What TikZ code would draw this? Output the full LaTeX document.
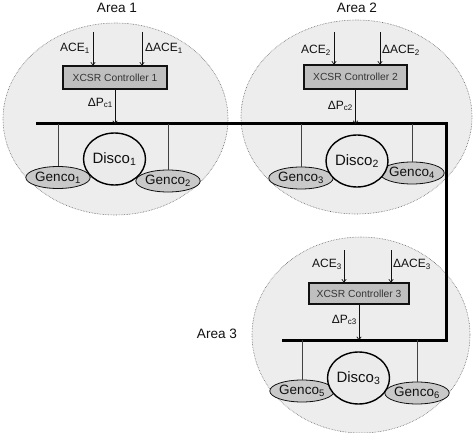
\documentclass[tikz,border=0pt]{standalone}
\usepackage{fontspec}
\setmainfont{Liberation Sans}
\usetikzlibrary{shapes.geometric,arrows.meta}
\definecolor{areafill}{HTML}{EDEDED}
\definecolor{boxfill}{HTML}{BFBFBF}
\definecolor{gencofill}{HTML}{C9C9C9}
\definecolor{discofill}{HTML}{EBEBEB}
\definecolor{ink}{HTML}{111111}
\tikzset{
  area/.style={ellipse,draw=black!60,densely dotted,fill=areafill,line width=0.6pt,inner sep=0pt},
  ctrl/.style={draw=ink,fill=boxfill,line width=1.1pt,inner sep=0pt,text=ink!85,font=\fontsize{10.3}{12}\selectfont},
  genco/.style={ellipse,draw=ink,fill=gencofill,line width=0.8pt,inner sep=0pt,minimum width=61pt,minimum height=22pt,text=ink,font=\fontsize{13.5}{15}\selectfont},
  disco/.style={ellipse,draw=black,fill=discofill,line width=1.4pt,inner sep=0pt,minimum width=55pt,minimum height=52pt,text=ink,font=\fontsize{15}{17}\selectfont},
  lbl/.style={inner sep=0pt,text=ink,font=\fontsize{12}{14}\selectfont},
  arealbl/.style={inner sep=0pt,text=ink,font=\fontsize{13.6}{16}\selectfont},
  arr/.style={draw=ink,line width=0.7pt,-{To[length=3.5pt,width=5pt]}},
  tie/.style={draw=ink!80,line width=0.8pt},
  bus/.style={draw=black,line width=3pt}
}
\begin{document}
\begin{tikzpicture}[x=1pt,y=-1pt]
\useasboundingbox (0,0) rectangle (474,433);
% areas
\node[area,minimum width=225pt,minimum height=192pt] (A1) at (115.5,119) {};
\node[area,minimum width=231pt,minimum height=194pt] (A2) at (356.5,117) {};
\node[area,minimum width=218pt,minimum height=196pt] (A3) at (361,335) {};
\node[arealbl] (L1) at (117,8) {Area 1};
\node[arealbl] (L2) at (357,8) {Area 2};
\node[arealbl] (L3) at (217,334) {Area 3};
% controllers
\node[ctrl,minimum width=104pt,minimum height=23pt] (c1) at (115,77.5) {XCSR Controller 1};
\node[ctrl,minimum width=103pt,minimum height=24pt] (c2) at (355.5,77) {XCSR Controller 2};
\node[ctrl,minimum width=100pt,minimum height=21pt] (c3) at (359,293.5) {XCSR Controller 3};
% bus
\coordinate (busL) at (37,124);
\coordinate (busC) at (446,124);
\coordinate (busD) at (446,340);
\coordinate (busE) at (283,340);
\draw[bus,line cap=rect] (busL) -- (busC) -- (busD) -- (busE);
% inputs
\coordinate (i1a) at (93,32);
\coordinate (i1b) at (142,32);
\coordinate (i2a) at (334,32);
\coordinate (i2b) at (380,32);
\coordinate (i3a) at (344,250);
\coordinate (i3b) at (391,250);
\draw[arr] (i1a) -- (i1a |- c1.north);
\draw[arr] (i1b) -- (i1b |- c1.north);
\draw[arr] (i2a) -- (i2a |- c2.north);
\draw[arr] (i2b) -- (i2b |- c2.north);
\draw[arr] (i3a) -- (i3a |- c3.north);
\draw[arr] (i3b) -- (i3b |- c3.north);
\node[lbl,anchor=east] (t1a) at (90,48) {ACE\textsubscript{1}};
\node[lbl,anchor=west] (t1b) at (145,48) {ΔACE\textsubscript{1}};
\node[lbl,anchor=east] (t2a) at (331,50) {ACE\textsubscript{2}};
\node[lbl,anchor=west] (t2b) at (382,50) {ΔACE\textsubscript{2}};
\node[lbl,anchor=east] (t3a) at (342,264) {ACE\textsubscript{3}};
\node[lbl,anchor=west] (t3b) at (393,264) {ΔACE\textsubscript{3}};
% outputs
\draw[arr] (c1.south) -- (c1.south |- busL);
\draw[arr] (c2.south) -- (c2.south |- busL);
\draw[arr] (c3.south) -- (c3.south |- busE);
\node[lbl,anchor=east] (p1) at (113,103) {ΔP\textsubscript{c1}};
\node[lbl,anchor=east] (p2) at (353,106) {ΔP\textsubscript{c2}};
\node[lbl,anchor=east] (p3) at (357,320) {ΔP\textsubscript{c3}};
% gencos and discos
\node[genco] (g1) at (58,177.5) {Genco\textsubscript{1}};
\node[genco] (g2) at (168,181) {Genco\textsubscript{2}};
\node[genco] (g3) at (301,178) {Genco\textsubscript{3}};
\node[genco] (g4) at (412,173) {Genco\textsubscript{4}};
\node[genco] (g5) at (302,391) {Genco\textsubscript{5}};
\node[genco] (g6) at (417,393) {Genco\textsubscript{6}};
\draw[tie] (g1.north) -- (g1.north |- busL);
\draw[tie] (g2.north) -- (g2.north |- busL);
\draw[tie] (g3.north) -- (g3.north |- busL);
\draw[tie] (g4.north) -- (g4.north |- busL);
\draw[tie] (g5.north) -- (g5.north |- busE);
\draw[tie] (g6.north) -- (g6.north |- busE);
\node[disco] (d1) at (114.5,159) {Disco\textsubscript{1}};
\node[disco] (d2) at (357,161) {Disco\textsubscript{2}};
\node[disco] (d3) at (358.5,378) {Disco\textsubscript{3}};
\end{tikzpicture}
\end{document}
